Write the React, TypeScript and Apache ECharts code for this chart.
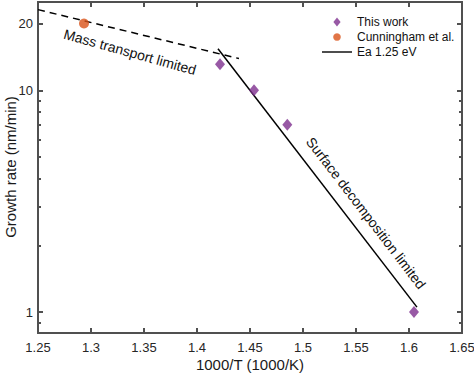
import React, { useEffect, useRef } from "react";
import * as echarts from "echarts";

const thisWorkX = [1.4217, 1.4538, 1.4852, 1.6047];
const thisWorkY = [13.1, 10.0, 7.0, 1.0];
const cunninghamX = [1.2934];
const cunninghamY = [20];
const eaFitX = [1.4198, 1.6075];
const eaFitY = [15.4, 1.053];
const massX = [1.25, 1.4396];
const massY = [23.1, 13.9];
const yMajorTicks = [1, 10, 20];
const yMinorTicks = [0.9, 2, 3, 4, 5, 6, 7, 8, 9];

const X_MIN = 1.25;
const X_MAX = 1.65;
const Y_MIN = 0.805;
const Y_MAX = 25;

const FONT = "'Liberation Sans', Arial, Helvetica, sans-serif";
const AX = "#505050";
const LW = 2;

const GRID = { left: 38, right: 12, top: 2, bottom: 40 };
const W = 474;
const H = 373;

const ICON_DIAMOND = "path://M0,0M30,10M15,0.5L18.6,5L15,9.5L11.4,5Z";
const ICON_CIRCLE = "path://M0,0M30,10M15,1.2A3.8,3.8,0,1,1,14.99,1.2Z";
const ICON_LINE = "path://M0,0M30,10M0,4.3L30,4.3L30,5.7L0,5.7Z";

const zip = (xs: number[], ys: number[]) => xs.map((x, i) => [x, ys[i]]);

export default function App() {
  const ref = useRef<HTMLDivElement>(null);
  useEffect(() => {
    document.body.style.margin = "0";
    const chart = echarts.init(ref.current!, null, { renderer: "svg" });
    const lineStyle = { color: AX, width: LW, type: "solid" };
    const xBase = {
      type: "value",
      min: X_MIN,
      max: X_MAX,
      interval: 0.05,
      splitLine: { show: false },
      axisLine: { show: true, onZero: false, lineStyle },
      axisTick: { show: true, inside: true, length: 5, lineStyle },
    };
    const yBase = {
      type: "log",
      logBase: 10,
      min: Y_MIN,
      max: Y_MAX,
      splitLine: { show: false },
      axisLine: { show: true, onZero: false, lineStyle },
    };
    const tick = (len: number, vals: number[]) => ({
      show: true,
      inside: true,
      length: len,
      customValues: vals,
      lineStyle,
    });
    chart.setOption({
      animation: false,
      grid: { ...GRID, containLabel: false, outerBoundsMode: "none" },
      xAxis: [
        {
          ...xBase,
          position: "bottom",
          axisLabel: { fontFamily: FONT, fontSize: 13, color: "#262626", margin: 8 },
        },
        { ...xBase, position: "top", axisLabel: { show: false } },
      ],
      yAxis: [
        {
          ...yBase,
          position: "left",
          axisTick: tick(5, yMajorTicks),
          axisLabel: { fontFamily: FONT, fontSize: 13, color: "#262626", margin: 5, customValues: yMajorTicks },
        },
        { ...yBase, position: "left", axisTick: tick(3, yMinorTicks), axisLabel: { show: false } },
        { ...yBase, position: "right", axisTick: tick(5, yMajorTicks), axisLabel: { show: false } },
        { ...yBase, position: "right", axisTick: tick(3, yMinorTicks), axisLabel: { show: false } },
      ],
      legend: {
        orient: "vertical",
        left: 317,
        top: 11,
        itemWidth: 30,
        itemHeight: 10,
        itemGap: 3,
        data: [
          { name: "This work", icon: ICON_DIAMOND },
          { name: "Cunningham et al.", icon: ICON_CIRCLE },
          { name: "Ea 1.25 eV", icon: ICON_LINE },
        ],
        textStyle: { fontFamily: FONT, fontSize: 12, color: "#111", lineHeight: 12 },
      },
      series: [
        {
          name: "Mass transport",
          type: "line",
          data: zip(massX, massY),
          symbol: "none",
          lineStyle: { color: "#000", width: 1.5, type: [7, 5] },
          z: 1,
        },
        {
          name: "Ea 1.25 eV",
          type: "line",
          data: zip(eaFitX, eaFitY),
          symbol: "none",
          color: "#000",
          itemStyle: { color: "#000" },
          lineStyle: { color: "#000", width: 1.5 },
          z: 1,
        },
        {
          name: "This work",
          type: "scatter",
          data: zip(thisWorkX, thisWorkY),
          symbol: "diamond",
          symbolSize: [10, 12],
          itemStyle: { color: "#7E2F8E" },
          z: 3,
        },
        {
          name: "Cunningham et al.",
          type: "scatter",
          data: zip(cunninghamX, cunninghamY),
          symbol: "circle",
          symbolSize: 10,
          itemStyle: { color: "#D95319" },
          z: 3,
        },
      ],
      graphic: [
        {
          type: "text",
          x: 250,
          y: 364,
          style: {
            text: "1000/T (1000/K)",
            fontFamily: FONT,
            fontSize: 15,
            fill: "#1a1a1a",
            align: "center",
            verticalAlign: "middle",
          },
        },
        {
          type: "text",
          x: 10,
          y: 167,
          rotation: Math.PI / 2,
          style: {
            text: "Growth rate (nm/min)",
            fontFamily: FONT,
            fontSize: 15,
            fill: "#1a1a1a",
            align: "center",
            verticalAlign: "middle",
          },
        },
        {
          type: "text",
          x: 130,
          y: 52,
          rotation: -0.272,
          style: {
            text: "Mass transport limited",
            fontFamily: FONT,
            fontSize: 14,
            fill: "#111",
            align: "center",
            verticalAlign: "middle",
          },
        },
        {
          type: "text",
          x: 366,
          y: 213,
          rotation: -0.918,
          style: {
            text: "Surface decomposition limited",
            fontFamily: FONT,
            fontSize: 14,
            fill: "#111",
            align: "center",
            verticalAlign: "middle",
          },
        },
      ],
    });
    return () => chart.dispose();
  }, []);
  return <div ref={ref} style={{ width: W, height: H }} />;
}
